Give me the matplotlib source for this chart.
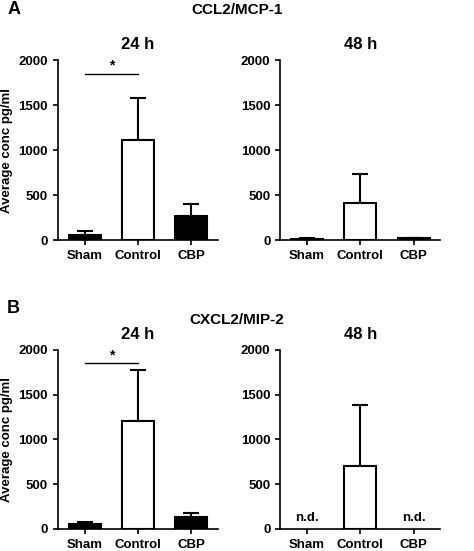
import numpy as np
import matplotlib.pyplot as plt

groups = ["Sham", "Control", "CBP"]
colors = ["black", "white", "black"]

ccl2_24_mean = [60, 1110, 265]
ccl2_24_top = [100, 1580, 400]
ccl2_48_mean = [15, 410, 20]
ccl2_48_top = [25, 730, 30]
cxcl2_24_mean = [50, 1205, 135]
cxcl2_24_top = [80, 1770, 175]
cxcl2_48_mean = [np.nan, 700, np.nan]
cxcl2_48_top = [np.nan, 1380, np.nan]

fig = plt.figure(figsize=(4.74, 5.51), dpi=100)
plt.rcParams['font.family'] = ['Liberation Sans', 'DejaVu Sans']


def panel(rect, means, tops, title, ylabel=True, sig=False):
    ax = fig.add_axes(rect)
    x = np.arange(3)
    for i in range(3):
        if np.isnan(means[i]):
            ax.text(x[i], 60, "n.d.", ha="center", va="bottom", fontsize=9.5, fontweight="bold")
            continue
        ax.bar(x[i], means[i], width=0.6, color=colors[i], edgecolor="black", linewidth=1.5, zorder=2)
        ax.errorbar(x[i], means[i], yerr=[[0], [tops[i] - means[i]]], color="black",
                    capsize=6, elinewidth=1.5, capthick=1.5, zorder=1)
    ax.set_xlim(-0.5, 2.5)
    ax.set_ylim(0, 2000)
    ax.set_yticks([0, 500, 1000, 1500, 2000])
    ax.set_xticks(x)
    ax.set_xticklabels(groups, fontweight="bold", fontsize=9.5)
    ax.tick_params(labelsize=9.5, width=1.2)
    for t in ax.get_yticklabels():
        t.set_fontweight("bold")
    for s in ["top", "right"]:
        ax.spines[s].set_visible(False)
    for s in ["left", "bottom"]:
        ax.spines[s].set_linewidth(1.2)
    ax.set_title(title, fontweight="bold", fontsize=12, pad=8)
    if ylabel:
        ax.set_ylabel("Average conc pg/ml", fontweight="bold", fontsize=9.5)
    if sig:
        ax.plot([0, 1], [1850, 1850], color="black", lw=1)
        ax.text(0.5, 1860, "*", ha="center", va="bottom", fontsize=10, fontweight="bold")
    return ax


panel([0.122, 0.564, 0.338, 0.327], ccl2_24_mean, ccl2_24_top, "24 h", sig=True)
panel([0.591, 0.564, 0.338, 0.327], ccl2_48_mean, ccl2_48_top, "48 h", ylabel=False)
panel([0.122, 0.040, 0.338, 0.325], cxcl2_24_mean, cxcl2_24_top, "24 h", sig=True)
panel([0.591, 0.040, 0.338, 0.325], cxcl2_48_mean, cxcl2_48_top, "48 h", ylabel=False)

fig.text(0.015, 0.982, "A", fontweight="bold", fontsize=13, va="center")
fig.text(0.5, 0.982, "CCL2/MCP-1", fontweight="bold", fontsize=11, ha="center", va="center")
fig.text(0.015, 0.44, "B", fontweight="bold", fontsize=13, va="center")
fig.text(0.5, 0.42, "CXCL2/MIP-2", fontweight="bold", fontsize=11, ha="center", va="center")

fig.savefig("out.png", dpi=100)
